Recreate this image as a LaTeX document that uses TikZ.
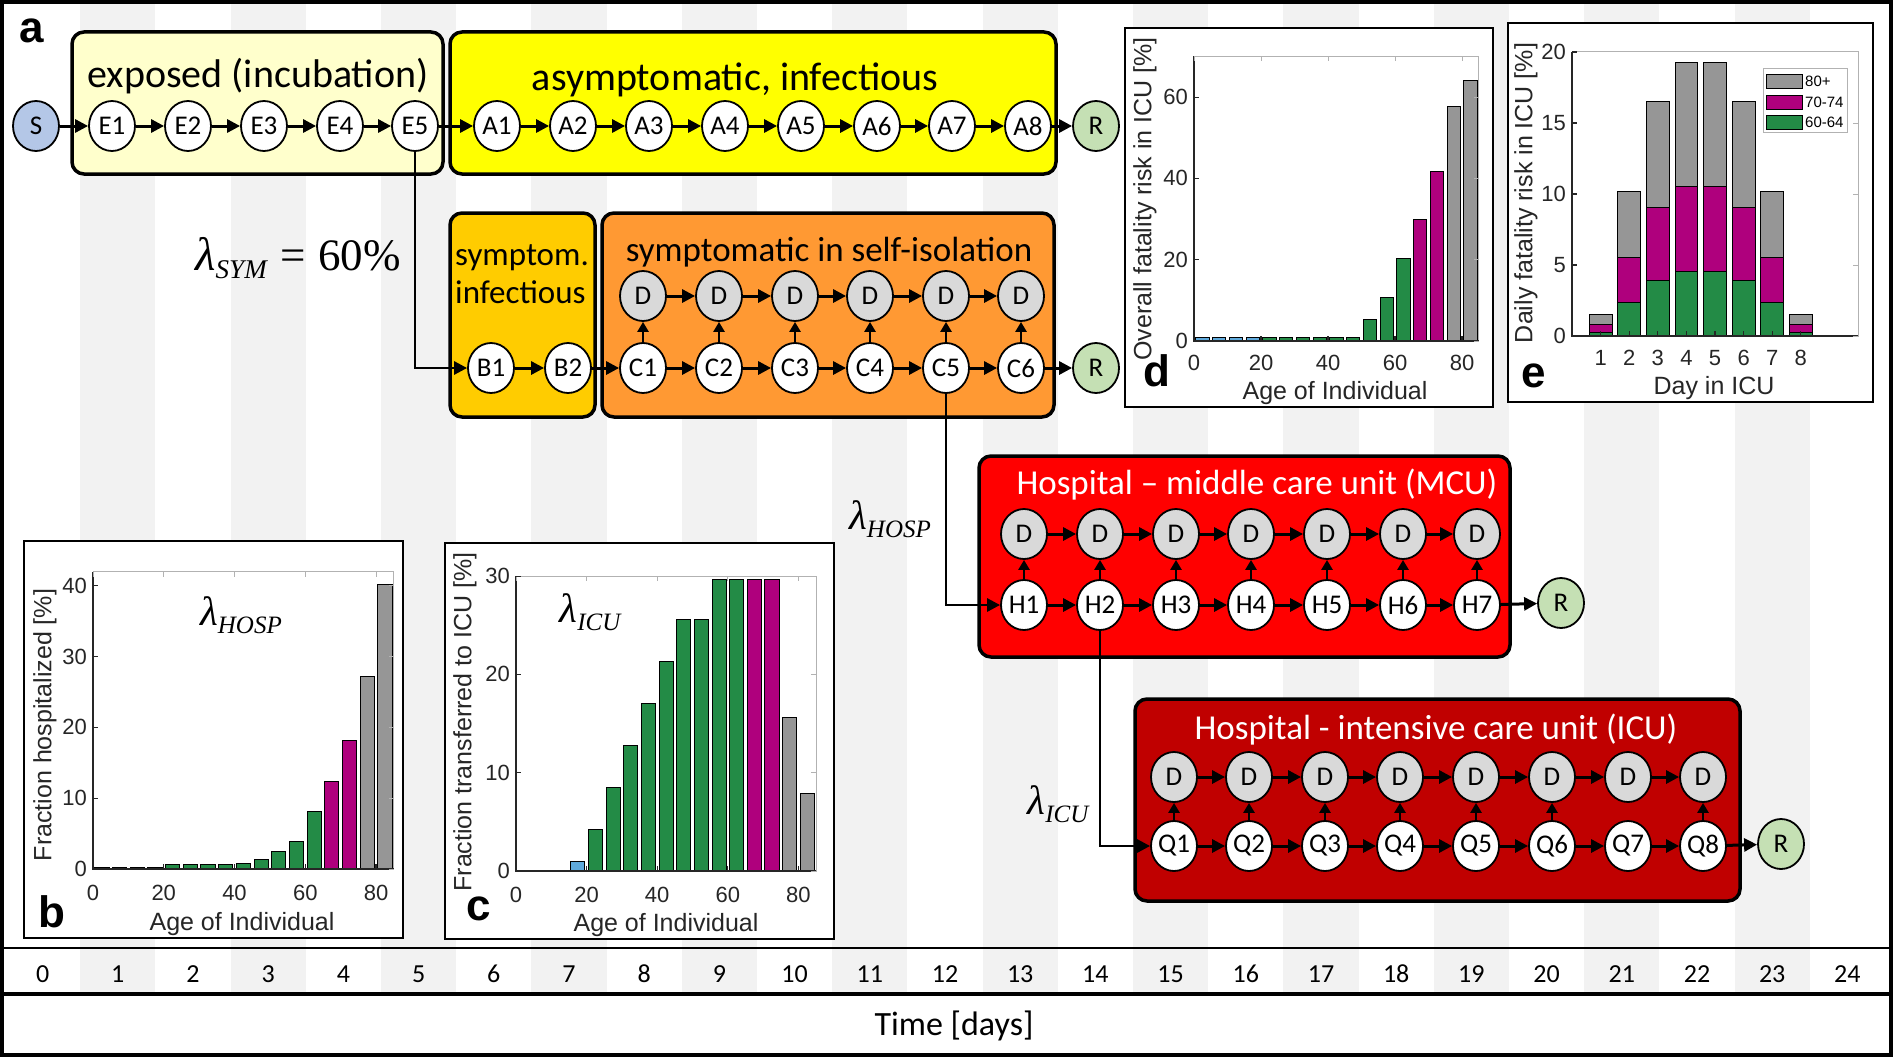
\documentclass[tikz,border=0pt]{standalone}
\usepackage{fontspec}
\setmainfont{Carlito}
\newfontfamily\arialf{Liberation Sans}
\newfontfamily\timesf{Liberation Serif}
\usetikzlibrary{shapes.geometric,arrows.meta}
\definecolor{sblue}{HTML}{B4C7E7}
\definecolor{rgreen}{HTML}{C5E0B4}
\definecolor{dgray}{HTML}{D9D9D9}
\definecolor{lyellow}{HTML}{FFFFCC}
\definecolor{yel}{HTML}{FFFF00}
\definecolor{goldc}{HTML}{FFCC00}
\definecolor{orng}{HTML}{FF9933}
\definecolor{mcured}{HTML}{FF0000}
\definecolor{icured}{HTML}{C00000}
\definecolor{stripe}{HTML}{F2F2F2}
\definecolor{cb}{RGB}{95,170,220}
\definecolor{cg}{RGB}{35,139,70}
\definecolor{cm}{RGB}{175,0,125}
\definecolor{cgy}{RGB}{150,150,150}
\definecolor{axc}{RGB}{38,38,38}
\newcommand\lamsub[3]{{\timesf\itshape\fontsize{#1}{#1}\selectfont λ\raisebox{-0.18em}{\fontsize{#2}{#2}\selectfont #3}}}
\begin{document}
\begin{tikzpicture}[x=1pt,y=-1pt,
  arr/.style={line width=3pt,-{Triangle[length=13pt,width=13pt]}},
  varr/.style={line width=2.5pt,-{Triangle[length=10pt,width=11pt]}},
  conn/.style={line width=2.8pt,-{Triangle[length=13pt,width=13pt]}},
  st/.style={ellipse,draw,line width=1.8pt,fill=white,minimum width=46pt,minimum height=50pt,inner sep=0pt,font=\fontsize{27}{27}\selectfont},
  dd/.style={st,fill=dgray},
  rr/.style={st,fill=rgreen},
  pbox/.style={draw,line width=3.5pt,rounded corners=12pt},
  ttl/.style={font=\fontsize{35}{40}\selectfont,inner sep=0pt},
  bigttl/.style={font=\fontsize{40}{44}\selectfont,inner sep=0pt},
  pframe/.style={draw,line width=2pt,fill=white},
  bar/.style={draw=black,line width=0.8pt},
  axbox/.style={draw=gray!60,line width=1pt},
  axt/.style={draw=axc,line width=1.2pt},
  tk/.style={font=\arialf\fontsize{22}{22}\selectfont,text=axc,inner sep=0pt},
  axl/.style={font=\arialf\fontsize{25}{25}\selectfont,text=axc,inner sep=0pt},
  plet/.style={font=\arialf\bfseries\fontsize{44}{44}\selectfont,inner sep=0pt},
  lg/.style={font=\arialf\fontsize{15}{15}\selectfont,text=black,inner sep=0pt,anchor=west}
]
\useasboundingbox (0,0) rectangle (1894,1057);
% stripes
\foreach \k in {1,3,...,23} \fill[stripe] ({5+75.2*\k},3) rectangle ({80.2+75.2*\k},994);
% timeline
\draw[line width=2pt] (2,948) -- (1891,948);
\draw[line width=4pt] (2,994) -- (1891,994);
\foreach \k in {0,...,24} \node[font=\fontsize{26}{26}\selectfont,inner sep=0pt] (tl\k) at ({42.6+75.2*\k},974) {\k};
\node[font=\fontsize{34}{34}\selectfont,inner sep=0pt] (tlab) at (954,1026) {Time [days]};
\draw[line width=4pt] (2,2) rectangle (1891,1055);

% process boxes
\draw[pbox,fill=lyellow] (72,32) rectangle (443,174);
\draw[pbox,fill=yel] (450,32) rectangle (1056,174);
\draw[pbox,fill=goldc] (450,213) rectangle (595,417);
\draw[pbox,fill=orng] (602,213) rectangle (1054,417);
\draw[pbox,fill=mcured] (979,456) rectangle (1510,657);
\draw[pbox,fill=icured] (1135,699) rectangle (1740,901);

\node[bigttl] (tE) at (258,76) {exposed (incubation)};
\node[bigttl] (tA) at (735,80) {asymptomatic, infectious};
\node[font=\fontsize{33}{33}\selectfont,inner sep=0pt,anchor=base west] (tB1) at (455,265) {symptom.};
\node[font=\fontsize{33}{33}\selectfont,inner sep=0pt,anchor=base west] (tB2) at (455,303) {infectious};
\node[ttl] (tC) at (829,252) {symptomatic in self-isolation};
\node[ttl,text=white] (tH) at (1257,485) {Hospital -- middle care unit (MCU)};
\node[ttl,text=white] (tQ) at (1436,730) {Hospital - intensive care unit (ICU)};

\node[plet] (la) at (32,31) {a};

% row 1
\node[st,fill=sblue] (S) at (36,126) {S};
\foreach \n/\x in {1/112,2/188,3/264,4/340,5/415} \node[st] (E\n) at (\x,126) {E\n};
\foreach \n/\x in {1/497,2/573,3/649,4/725,5/801,6/877,7/952,8/1028} \node[st] (A\n) at (\x,126) {A\n};
\node[rr] (R1) at (1096,126) {R};
\draw[arr] (S) -- (E1);
\foreach \a/\b in {E1/E2,E2/E3,E3/E4,E4/E5,E5/A1,A1/A2,A2/A3,A3/A4,A4/A5,A5/A6,A6/A7,A7/A8,A8/R1} \draw[arr] (\a) -- (\b);

% row 2
\node[st] (B1) at (491,368) {B1};
\node[st] (B2) at (568,368) {B2};
\foreach \n/\x in {1/643,2/719,3/795,4/870,5/946,6/1021} {
  \node[st] (C\n) at (\x,368) {C\n};
  \node[dd] (DC\n) at (\x,296) {D};
}
\node[rr] (R2) at (1096,368) {R};
\foreach \a/\b in {B1/B2,B2/C1,C1/C2,C2/C3,C3/C4,C4/C5,C5/C6,C6/R2,DC1/DC2,DC2/DC3,DC3/DC4,DC4/DC5,DC5/DC6} \draw[arr] (\a) -- (\b);
\foreach \n in {1,...,6} \draw[varr] (C\n) -- (DC\n);
\draw[conn] (E5.south) |- (B1.west);
\node[inner sep=0pt] (lsym) at (298,258) {\lamsub{47}{27}{SYM}\hspace{14pt}{\timesf\fontsize{45}{45}\selectfont =\hspace{12pt}60\%}};

% MCU
\foreach \n/\x in {1/1024,2/1100,3/1176,4/1251,5/1327,6/1403,7/1477} {
  \node[st] (H\n) at (\x,605) {H\n};
  \node[dd] (DH\n) at (\x,534) {D};
}
\node[rr] (R3) at (1561,603) {R};
\foreach \a/\b in {H1/H2,H2/H3,H3/H4,H4/H5,H5/H6,H6/H7,H7/R3,DH1/DH2,DH2/DH3,DH3/DH4,DH4/DH5,DH5/DH6,DH6/DH7} \draw[arr] (\a) -- (\b);
\foreach \n in {1,...,7} \draw[varr] (H\n) -- (DH\n);
\draw[conn] (C5.south) |- (H1.west);
\node[inner sep=0pt] (lhosp) at (890,519) {\lamsub{41}{25}{HOSP}};

% ICU
\foreach \n/\x in {1/1174,2/1249,3/1325,4/1400,5/1476,6/1552,7/1628,8/1703} {
  \node[st] (Q\n) at (\x,846) {Q\n};
  \node[dd] (DQ\n) at (\x,777) {D};
}
\node[rr] (R4) at (1781,844) {R};
\foreach \a/\b in {Q1/Q2,Q2/Q3,Q3/Q4,Q4/Q5,Q5/Q6,Q6/Q7,Q7/Q8,Q8/R4,DQ1/DQ2,DQ2/DQ3,DQ3/DQ4,DQ4/DQ5,DQ5/DQ6,DQ6/DQ7,DQ7/DQ8} \draw[arr] (\a) -- (\b);
\foreach \n in {1,2,3,4,5,6,8} \draw[varr] (Q\n) -- (DQ\n);
\draw[conn] (H2.south) |- (Q1.west);
\node[inner sep=0pt] (licu) at (1058,804) {\lamsub{41}{25}{ICU}};

% panel frames
\draw[pframe] (24,541) rectangle (403,938);
\draw[pframe] (445,543) rectangle (834,939);
\draw[pframe] (1125,28) rectangle (1493,407);
\draw[pframe] (1508,23) rectangle (1873,402);

% panel b
\begin{scope}[shift={(93,869)},x=3.5375pt,y=7.08pt]
\foreach \i/\v/\c in {1/0.2/cb,2/0.2/cb,3/0.2/cb,4/0.2/cb,5/0.6/cg,6/0.6/cg,7/0.6/cg,8/0.6/cg,9/0.8/cg,10/1.3/cg,11/2.5/cg,12/3.9/cg,13/8.1/cg,14/12.4/cm,15/18.2/cm,16/27.2/cgy,17/40.2/cgy}
  \draw[bar,fill=\c] ({5*\i-4.5},0) rectangle ({5*\i-0.5},\v);
\draw[axbox] (0,0) rectangle (85,42);
\draw[axt] (0,42) -- (0,0) -- (85,0);
\foreach \tv in {0,20,40,60,80} {\draw[axt] (\tv,0) -- ++(0pt,5pt); \draw[axbox] (\tv,42) -- ++(0pt,-5pt); \node[tk] (bx\tv) at ([yshift=-24pt]\tv,0) {\tv};}
\foreach \tv in {0,10,20,30,40} {\draw[axt] (0,\tv) -- ++(5pt,0pt); \draw[axbox] (85,\tv) -- ++(-5pt,0pt); \node[tk,anchor=east] (by\tv) at ([xshift=-6pt]0,\tv) {\tv};}
\end{scope}
\node[axl] (bxl) at (242,924) {Age of Individual};
\node[axl,rotate=90] (byl) at (45,725) {Fraction hospitalized [\%]};
\node[inner sep=0pt] (bl) at (241,615) {\lamsub{41}{25}{HOSP}};
\node[plet] (lb) at (52,912) {b};

% panel c
\begin{scope}[shift={(516,871)},x=3.53pt,y=9.83pt]
\foreach \i/\v/\c in {1/0.08/cb,2/0.08/cb,3/0.08/cb,4/1.0/cb,5/4.2/cg,6/8.5/cg,7/12.8/cg,8/17.0/cg,9/21.3/cg,10/25.6/cg,11/25.6/cg,12/29.7/cg,13/29.7/cg,14/29.7/cm,15/29.7/cm,16/15.6/cgy,17/7.9/cgy}
  \draw[bar,fill=\c] ({5*\i-4.5},0) rectangle ({5*\i-0.5},\v);
\draw[axbox] (0,0) rectangle (85,30);
\draw[axt] (0,30) -- (0,0) -- (85,0);
\foreach \tv in {0,20,40,60,80} {\draw[axt] (\tv,0) -- ++(0pt,5pt); \draw[axbox] (\tv,30) -- ++(0pt,-5pt); \node[tk] (cx\tv) at ([yshift=-24pt]\tv,0) {\tv};}
\foreach \tv in {0,10,20,30} {\draw[axt] (0,\tv) -- ++(5pt,0pt); \draw[axbox] (85,\tv) -- ++(-5pt,0pt); \node[tk,anchor=east] (cy\tv) at ([xshift=-6pt]0,\tv) {\tv};}
\end{scope}
\node[axl] (cxl) at (666,925) {Age of Individual};
\node[axl,rotate=90] (cyl) at (465,722) {Fraction transferred to ICU [\%]};
\node[inner sep=0pt] (cl) at (590,612) {\lamsub{41}{25}{ICU}};
\node[plet] (lc) at (479,909) {c};

% panel d
\begin{scope}[shift={(1194,341)},x=3.35pt,y=4.065pt]
\foreach \i/\v/\c in {1/0.8/cb,2/0.8/cb,3/0.8/cb,4/0.8/cb,5/0.8/cg,6/0.8/cg,7/0.8/cg,8/0.8/cg,9/0.8/cg,10/0.8/cg,11/5.2/cg,12/10.8/cg,13/20.3/cg,14/29.9/cm,15/41.6/cm,16/57.6/cgy,17/64/cgy}
  \draw[bar,fill=\c] ({5*\i-4.5},0) rectangle ({5*\i-0.5},\v);
\draw[axbox] (0,0) rectangle (85,70);
\draw[axt] (0,70) -- (0,0) -- (85,0);
\foreach \tv in {0,20,40,60,80} {\draw[axt] (\tv,0) -- ++(0pt,5pt); \draw[axbox] (\tv,70) -- ++(0pt,-5pt); \node[tk] (dx\tv) at ([yshift=-22pt]\tv,0) {\tv};}
\foreach \tv in {0,20,40,60} {\draw[axt] (0,\tv) -- ++(5pt,0pt); \draw[axbox] (85,\tv) -- ++(-5pt,0pt); \node[tk,anchor=east] (dy\tv) at ([xshift=-6pt]0,\tv) {\tv};}
\end{scope}
\node[axl] (dxl) at (1335,393) {Age of Individual};
\node[axl,rotate=90] (dyl) at (1145,199) {Overall fatality risk in ICU [\%]};
\node[plet] (ld) at (1157,371) {d};

% panel e
\begin{scope}[shift={(1572,336)},x=28.6pt,y=14.2pt]
\foreach \d/\g/\m/\tt in {1/0.28/0.83/1.52,2/2.37/5.55/10.17,3/3.9/9.05/16.5,4/4.55/10.55/19.3,5/4.55/10.55/19.3,6/3.9/9.05/16.5,7/2.37/5.55/10.17,8/0.28/0.83/1.52} {
  \draw[bar,fill=cg] ({\d-0.4},0) rectangle ({\d+0.4},\g);
  \draw[bar,fill=cm] ({\d-0.4},\g) rectangle ({\d+0.4},\m);
  \draw[bar,fill=cgy] ({\d-0.4},\m) rectangle ({\d+0.4},\tt);
}
\draw[axbox] (0,0) rectangle (10,20);
\draw[axt] (0,20) -- (0,0) -- (10,0);
\foreach \tv in {1,...,8} {\draw[axt] (\tv,0) -- ++(0pt,5pt); \node[tk] (ex\tv) at ([yshift=-22pt]\tv,0) {\tv};}
\foreach \tv in {0,5,10,15,20} {\draw[axt] (0,\tv) -- ++(5pt,0pt); \draw[axbox] (10,\tv) -- ++(-5pt,0pt); \node[tk,anchor=east] (ey\tv) at ([xshift=-6pt]0,\tv) {\tv};}
\end{scope}
\node[axl] (exl) at (1714,388) {Day in ICU};
\node[axl,rotate=90] (eyl) at (1526,193) {Daily fatality risk in ICU [\%]};
\node[plet] (le) at (1534,376) {e};
% legend
\draw[fill=white,draw=gray!60,line width=1pt] (1763,68) rectangle (1847,132);
\draw[bar,fill=cgy] (1766,74) rectangle (1802,88);
\draw[bar,fill=cm] (1766,95) rectangle (1802,109);
\draw[bar,fill=cg] (1766,115) rectangle (1802,129);
\node[lg] (lg1) at (1805,81) {80+};
\node[lg] (lg2) at (1805,102) {70-74};
\node[lg] (lg3) at (1805,122) {60-64};
\end{tikzpicture}
\end{document}
